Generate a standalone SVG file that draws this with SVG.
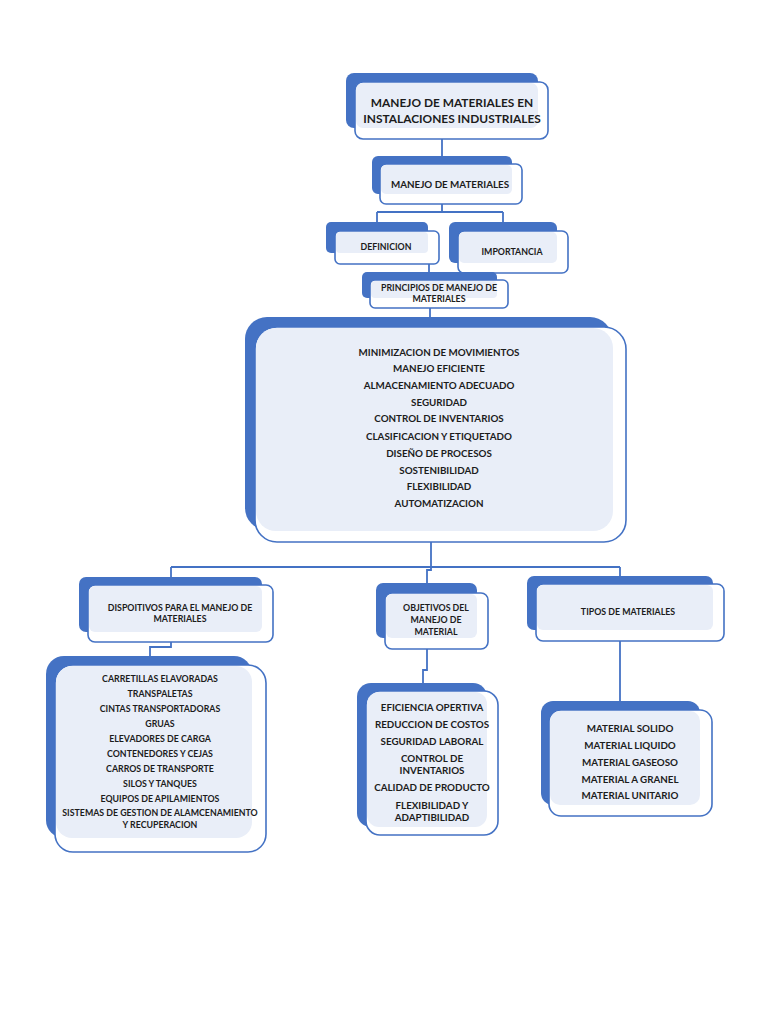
<svg xmlns="http://www.w3.org/2000/svg" width="768" height="1024" viewBox="0 0 768 1024">
<style>
.bk{fill:#4472C4}
.fr{fill:#ffffff;stroke:#4472C4;stroke-width:1.6}
.lt{fill:#E9EEF8}
.cn{fill:none;stroke:#4472C4;stroke-width:1.8}
text{font-family:Lato,"Liberation Sans",sans-serif;font-weight:bold;fill:#1c1c1c;text-anchor:middle}
.t13{font-size:11.9px}
.t105{font-size:9.8px}
.t95{font-size:9.8px}
.t85{font-size:8.8px}
</style>
<rect width="768" height="1024" fill="#ffffff"/>
<g id="connectors">
<path class="cn" d="M442 139V157"/>
<path class="cn" d="M442 204V212M377 212H503M377 212V223M503 212V223"/>
<path class="cn" d="M429 264V273"/>
<path class="cn" d="M430 308V319"/>
<path class="cn" d="M431 542V567M171 567H620M171 567V578M620 567V577M431 567V570H427V584"/>
<path class="cn" d="M171 642V647H150V657"/>
<path class="cn" d="M427 649V670H423V684"/>
<path class="cn" d="M620 641V701"/>
</g>
<g id="n1">
<rect class="bk" x="346" y="73" width="192" height="55" rx="8"/>
<rect class="fr" x="355" y="82" width="193" height="57" rx="8"/>
<rect class="lt" x="356" y="83" width="182" height="45" rx="7"/>
<text class="t13" x="452" y="107">MANEJO DE MATERIALES EN</text>
<text class="t13" x="452" y="123">INSTALACIONES INDUSTRIALES</text>
</g>
<g id="n2">
<rect class="bk" x="372" y="156" width="140" height="38" rx="6"/>
<rect class="fr" x="380" y="164" width="142" height="40" rx="6"/>
<rect class="lt" x="381" y="165" width="131" height="29" rx="5"/>
<text class="t95" x="450" y="188">MANEJO DE MATERIALES</text>
</g>
<g id="n3">
<rect class="bk" x="326" y="222" width="102" height="31" rx="5"/>
<rect class="fr" x="335" y="231" width="104" height="33" rx="5"/>
<rect class="lt" x="336" y="232" width="92" height="21" rx="4"/>
<text class="t85" x="386" y="250">DEFINICION</text>
</g>
<g id="n4">
<rect class="bk" x="449" y="222" width="108" height="41" rx="6"/>
<rect class="fr" x="458" y="231" width="110" height="42" rx="6"/>
<rect class="lt" x="459" y="232" width="98" height="31" rx="5"/>
<text class="t85" x="512" y="255">IMPORTANCIA</text>
</g>
<g id="n5">
<rect class="bk" x="362" y="272" width="135" height="26" rx="5"/>
<rect class="fr" x="370" y="280" width="138" height="28" rx="5"/>
<rect class="lt" x="371" y="281" width="126" height="17" rx="4"/>
<text class="t85" x="439" y="291">PRINCIPIOS DE MANEJO DE</text>
<text class="t85" x="439" y="302">MATERIALES</text>
</g>
<g id="n6">
<rect class="bk" x="245" y="317" width="367" height="213" rx="22"/>
<rect class="fr" x="255" y="327" width="371" height="215" rx="22"/>
<rect class="lt" x="256" y="328" width="357" height="203" rx="20"/>
<text class="t105" x="439" y="356">MINIMIZACION DE MOVIMIENTOS</text>
<text class="t105" x="439" y="372">MANEJO EFICIENTE</text>
<text class="t105" x="439" y="389">ALMACENAMIENTO ADECUADO</text>
<text class="t105" x="439" y="406">SEGURIDAD</text>
<text class="t105" x="439" y="422">CONTROL DE INVENTARIOS</text>
<text class="t105" x="439" y="440">CLASIFICACION Y ETIQUETADO</text>
<text class="t105" x="439" y="457">DISEÑO DE PROCESOS</text>
<text class="t105" x="439" y="474">SOSTENIBILIDAD</text>
<text class="t105" x="439" y="490">FLEXIBILIDAD</text>
<text class="t105" x="439" y="507">AUTOMATIZACION</text>
</g>
<g id="n7">
<rect class="bk" x="79" y="577" width="183" height="55" rx="7"/>
<rect class="fr" x="88" y="585" width="185" height="57" rx="7"/>
<rect class="lt" x="89" y="586" width="173" height="46" rx="6"/>
<text class="t85" x="180" y="611">DISPOITIVOS PARA EL MANEJO DE</text>
<text class="t85" x="180" y="622">MATERIALES</text>
</g>
<g id="n8">
<rect class="bk" x="46" y="656" width="206" height="182" rx="18"/>
<rect class="fr" x="55" y="665" width="211" height="187" rx="18"/>
<rect class="lt" x="56" y="666" width="196" height="172" rx="16"/>
<text class="t85" x="160" y="682">CARRETILLAS ELAVORADAS</text>
<text class="t85" x="160" y="697">TRANSPALETAS</text>
<text class="t85" x="160" y="712">CINTAS TRANSPORTADORAS</text>
<text class="t85" x="160" y="727">GRUAS</text>
<text class="t85" x="160" y="742">ELEVADORES DE CARGA</text>
<text class="t85" x="160" y="757">CONTENEDORES Y CEJAS</text>
<text class="t85" x="160" y="772">CARROS DE TRANSPORTE</text>
<text class="t85" x="160" y="787">SILOS Y TANQUES</text>
<text class="t85" x="160" y="802">EQUIPOS DE APILAMIENTOS</text>
<text class="t85" x="160" y="816">SISTEMAS DE GESTION DE ALAMCENAMIENTO</text>
<text class="t85" x="160" y="828">Y RECUPERACION</text>
</g>
<g id="n9">
<rect class="bk" x="376" y="583" width="101" height="55" rx="7"/>
<rect class="fr" x="385" y="593" width="103" height="56" rx="7"/>
<rect class="lt" x="386" y="594" width="91" height="44" rx="6"/>
<text class="t85" x="436" y="611">OBJETIVOS DEL</text>
<text class="t85" x="436" y="623">MANEJO DE</text>
<text class="t85" x="436" y="635">MATERIAL</text>
</g>
<g id="n10">
<rect class="bk" x="357" y="683" width="130" height="144" rx="14"/>
<rect class="fr" x="366" y="691" width="132" height="144" rx="14"/>
<rect class="lt" x="367" y="692" width="120" height="135" rx="12"/>
<text class="t105" x="432" y="711">EFICIENCIA OPERTIVA</text>
<text class="t105" x="432" y="728">REDUCCION DE COSTOS</text>
<text class="t105" x="432" y="745">SEGURIDAD LABORAL</text>
<text class="t105" x="432" y="762">CONTROL DE</text>
<text class="t105" x="432" y="774">INVENTARIOS</text>
<text class="t105" x="432" y="791">CALIDAD DE PRODUCTO</text>
<text class="t105" x="432" y="809">FLEXIBILIDAD Y</text>
<text class="t105" x="432" y="821">ADAPTIBILIDAD</text>
</g>
<g id="n11">
<rect class="bk" x="527" y="576" width="186" height="54" rx="7"/>
<rect class="fr" x="536" y="584" width="188" height="57" rx="7"/>
<rect class="lt" x="537" y="585" width="176" height="45" rx="6"/>
<text class="t85" x="628" y="615">TIPOS DE MATERIALES</text>
</g>
<g id="n12">
<rect class="bk" x="541" y="701" width="159" height="104" rx="12"/>
<rect class="fr" x="549" y="710" width="163" height="106" rx="12"/>
<rect class="lt" x="550" y="711" width="150" height="94" rx="10"/>
<text class="t105" x="630" y="732">MATERIAL SOLIDO</text>
<text class="t105" x="630" y="749">MATERIAL LIQUIDO</text>
<text class="t105" x="630" y="766">MATERIAL GASEOSO</text>
<text class="t105" x="630" y="783">MATERIAL A GRANEL</text>
<text class="t105" x="630" y="799">MATERIAL UNITARIO</text>
</g>
</svg>
